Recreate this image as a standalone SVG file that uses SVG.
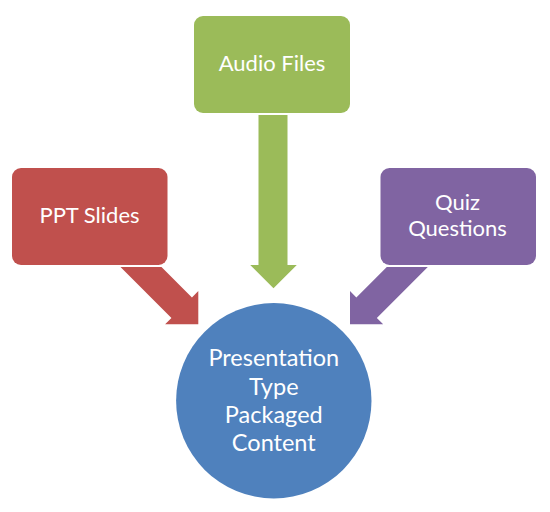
<svg xmlns="http://www.w3.org/2000/svg" width="550" height="512" viewBox="0 0 550 512">
<style>
.lbl{font-family:Lato,"Open Sans","Liberation Sans",sans-serif;font-size:22px;fill:#ffffff;text-anchor:middle}
.big{font-size:23.5px}
.red{fill:#C0504D}.green{fill:#9BBB59}.purple{fill:#8064A2}.blue{fill:#4F81BD}
</style>
<rect width="550" height="512" fill="#ffffff"/>
<g id="connectors">
<polygon class="red" points="120.5,267 161.5,267 191.95,297.45 198.3,291.1 198.3,324.3 165.1,324.3 171.45,317.95"/>
<polygon class="green" points="258.5,115 287.5,115 287.5,265 296.8,265 273.5,288.3 250.2,265 258.5,265"/>
<polygon class="purple" points="427.8,267 386.8,267 356.35,297.45 350,291.1 350,324.3 383.2,324.3 376.85,317.95"/>
</g>
<g id="audio">
<rect class="green" x="194" y="16" width="156" height="97" rx="9"/>
<text class="lbl" x="272" y="71">Audio Files</text>
</g>
<g id="ppt">
<rect class="red" x="12" y="168" width="155.5" height="97" rx="9"/>
<text class="lbl" x="89.5" y="223">PPT Slides</text>
</g>
<g id="quiz">
<rect class="purple" x="380.5" y="168" width="155.5" height="97" rx="9"/>
<text class="lbl" x="457.5" y="210">Quiz</text>
<text class="lbl" x="457.5" y="236">Questions</text>
</g>
<g id="center">
<circle class="blue" cx="273.8" cy="400.8" r="97.7"/>
<text class="lbl big" x="273.8" y="366">Presentation</text>
<text class="lbl big" x="273.8" y="394.5">Type</text>
<text class="lbl big" x="273.8" y="423">Packaged</text>
<text class="lbl big" x="273.8" y="451">Content</text>
</g>
</svg>
